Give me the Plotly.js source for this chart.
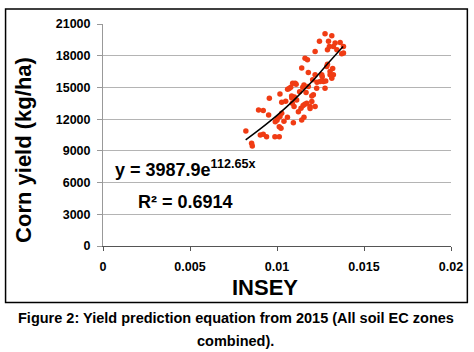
<!DOCTYPE html>
<html>
<head>
<meta charset="utf-8">
<script src="https://cdn.plot.ly/plotly-3.0.1.min.js"></script>
<style>
html,body{margin:0;padding:0;background:#fff;}
#chart{width:474px;height:352px;}
</style>
</head>
<body>
<div id="chart"></div>
<script>
// Observed points (INSEY, corn yield kg/ha)
var insey = [0.00821,0.00854,0.00858,0.00894,0.00921,0.00952,0.00956,0.00904,0.00921,0.00940,
  0.00988,0.01013,0.00990,0.01002,0.01013,0.01023,0.01017,0.01027,0.01017,0.01027,
  0.01060,0.01061,0.01079,0.01084,0.01090,0.01098,0.01094,0.01104,0.01113,0.01088,
  0.01123,0.01138,0.01142,0.01155,0.01148,0.01142,0.01161,0.01175,0.01180,0.01167,
  0.01171,0.01190,0.01200,0.01209,0.01219,0.01205,0.01219,0.01228,0.01219,0.01244,
  0.01257,0.01267,0.01276,0.01276,0.01286,0.01290,0.01296,0.01301,0.01305,0.01315,
  0.01315,0.01324,0.01334,0.01344,0.01363,0.01372,0.01382,0.01382,0.01324,0.01305,
  0.01248,0.01180,0.01155,0.01100,0.01070,0.01040,0.01110,0.01130,0.01160,0.01200,
  0.01230,0.01260,0.01290,0.01320,0.01085,0.01000,0.01050,0.01150,0.01190,0.01280];
var yieldKg = [10880,9710,9457,12870,12810,12400,13980,10500,10560,10340,
  10340,10340,11765,12080,11290,11130,12240,12560,14390,13600,
  12180,14830,15020,14200,15400,13190,11670,15400,13820,13500,
  12710,13030,11920,12180,15020,16830,17770,17620,16420,14520,
  13500,13190,13660,14300,13190,15720,16190,14930,18410,19360,
  16190,15560,14930,20080,16990,18570,19360,18880,16510,15880,
  19890,18880,19200,18570,19260,18190,18880,18250,16190,16190,
  15560,15090,15240,14100,14900,11800,15300,14600,13400,14200,
  15500,16000,17200,16800,14000,11900,13700,13300,13000,15600];
// Fitted trendline y = 3987.9e^(112.65x)
var trendX = [0.0082,0.0090,0.0100,0.0110,0.0120,0.0130,0.0138];
var trendY = [10040,11030,12360,13850,15530,17410,18880];
var xTicks = [0,0.005,0.01,0.015,0.02];
var xTickText = ['0','0.005','0.01','0.015','0.02'];
var yTicks = [0,3000,6000,9000,12000,15000,18000,21000];
var yTickText = ['0','3000','6000','9000','12000','15000','18000','21000'];

var FONT = 'Liberation Sans, Arial, Helvetica, sans-serif';

var data = [
  {x: insey, y: yieldKg, type: 'scatter', mode: 'markers',
   marker: {color: '#f03c14', size: 5.5}, hoverinfo: 'skip'},
  {x: trendX, y: trendY, type: 'scatter', mode: 'lines',
   line: {color: '#000', width: 1.5, shape: 'spline'}, hoverinfo: 'skip'}
];

var layout = {
  width: 474, height: 352,
  margin: {l: 103, r: 23, t: 24, b: 106},
  paper_bgcolor: '#fff', plot_bgcolor: '#fff',
  showlegend: false,
  font: {family: FONT, color: '#000'},
  xaxis: {
    range: [0, 0.02], tickvals: xTicks, ticktext: xTickText,
    showgrid: false, zeroline: false,
    showline: true, linecolor: '#555', linewidth: 1,
    ticks: 'outside', ticklen: 4, tickcolor: '#555',
    ticklabelstandoff: 5,
    tickfont: {family: FONT, size: 12.5, color: '#000', weight: 'bold'}
  },
  yaxis: {
    range: [0, 21000], tickvals: yTicks, ticktext: yTickText,
    showgrid: true, gridcolor: '#b4b4b4', gridwidth: 1,
    zeroline: false,
    showline: true, linecolor: '#999', linewidth: 1,
    ticks: 'outside', ticklen: 5, tickcolor: '#999',
    ticklabelstandoff: 4,
    tickfont: {family: FONT, size: 12.5, color: '#000', weight: 'bold'}
  },
  shapes: [
    {type: 'rect', xref: 'paper', yref: 'paper',
     x0: -0.280, x1: 1.047, y0: -0.254, y1: 1.068,
     line: {color: '#000', width: 1.5}, fillcolor: 'rgba(0,0,0,0)'}
  ],
  annotations: [
    {text: '<b>Corn yield (kg/ha)</b>', xref: 'paper', yref: 'paper',
     x: (23 - 103) / 347.4, y: (245.7 - 150) / 221.4, textangle: -90,
     showarrow: false, xanchor: 'center', yanchor: 'middle',
     font: {family: FONT, size: 22, color: '#000'}},
    {text: '<b>INSEY</b>', xref: 'paper', yref: 'paper',
     x: (265 - 103.3) / 347.4, y: (245.7 - 287) / 221.4,
     showarrow: false, xanchor: 'center', yanchor: 'middle',
     font: {family: FONT, size: 22, color: '#000'}},
    {text: '<b>y = 3987.9e<sup>112.65x</sup></b>', xref: 'paper', yref: 'paper',
     x: (113 - 103.3) / 347.4, y: (245.7 - 168) / 221.4,
     showarrow: false, xanchor: 'left', yanchor: 'middle',
     font: {family: FONT, size: 18, color: '#000'}},
    {text: '<b>R² = 0.6914</b>', xref: 'paper', yref: 'paper',
     x: (136 - 103.3) / 347.4, y: (245.7 - 202) / 221.4,
     showarrow: false, xanchor: 'left', yanchor: 'middle',
     font: {family: FONT, size: 18, color: '#000'}},
    {text: '<b>Figure 2: Yield prediction equation from 2015 (All soil EC zones</b>',
     xref: 'paper', yref: 'paper',
     x: (236 - 103.3) / 347.4, y: (245.7 - 318) / 221.4,
     showarrow: false, xanchor: 'center', yanchor: 'middle',
     font: {family: FONT, size: 14.5, color: '#000'}},
    {text: '<b>combined).</b>', xref: 'paper', yref: 'paper',
     x: (236 - 103.3) / 347.4, y: (245.7 - 340) / 221.4,
     showarrow: false, xanchor: 'center', yanchor: 'middle',
     font: {family: FONT, size: 14.5, color: '#000'}}
  ]
};

Plotly.newPlot('chart', data, layout, {staticPlot: true, displayModeBar: false});
</script>
</body>
</html>
